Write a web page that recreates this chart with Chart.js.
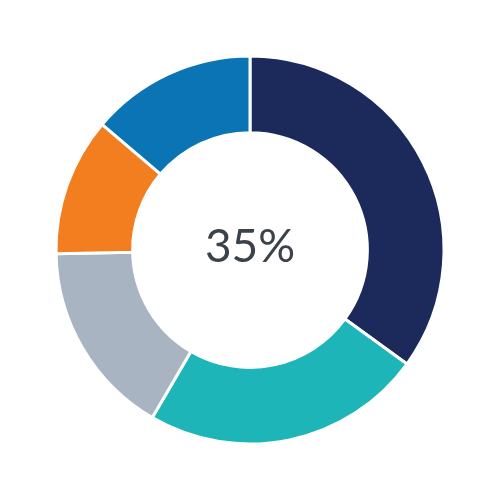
<!DOCTYPE html>
<html>
<head>
<meta charset="utf-8">
<script src="https://cdn.jsdelivr.net/npm/chart.js@4"></script>
<style>
  html, body { margin: 0; padding: 0; background: #fff; }
  #wrap { width: 500px; height: 500px; }
</style>
</head>
<body>
<div id="wrap"><canvas id="donut"></canvas></div>
<script>
// --- Data ---
const labels = ['A', 'B', 'C', 'D', 'E'];
const values = [35, 23.4, 16.3, 11.5, 13.8];
const colors = ['#1b2a5a', '#1db5b8', '#a9b4c3', '#f27e20', '#0b74b4'];
const centerLabel = '35%';

// center text plugin
const centerText = {
    id: 'centerText',
    afterDraw(chart) {
        const { ctx } = chart;
        const arc = chart.getDatasetMeta(0).data[0];
        ctx.save();
        ctx.font = '400 46px Lato, "Open Sans", sans-serif';
        ctx.fillStyle = '#3c424a';
        ctx.textAlign = 'center';
        ctx.textBaseline = 'middle';
        ctx.fillText(centerLabel, arc.x, arc.y - 3);
        ctx.restore();
    }
};

new Chart(document.getElementById('donut'), {
    type: 'doughnut',
    data: {
        labels: labels,
        datasets: [{
            data: values,
            backgroundColor: colors,
            borderColor: '#ffffff',
            borderWidth: 3
        }]
    },
    options: {
        responsive: true,
        maintainAspectRatio: false,
        animation: false,
        radius: 194,
        cutout: '60.5%',
        layout: { padding: 20 },
        plugins: {
            legend: { display: false },
            tooltip: { enabled: false }
        }
    },
    plugins: [centerText]
});
</script>
</body>
</html>
